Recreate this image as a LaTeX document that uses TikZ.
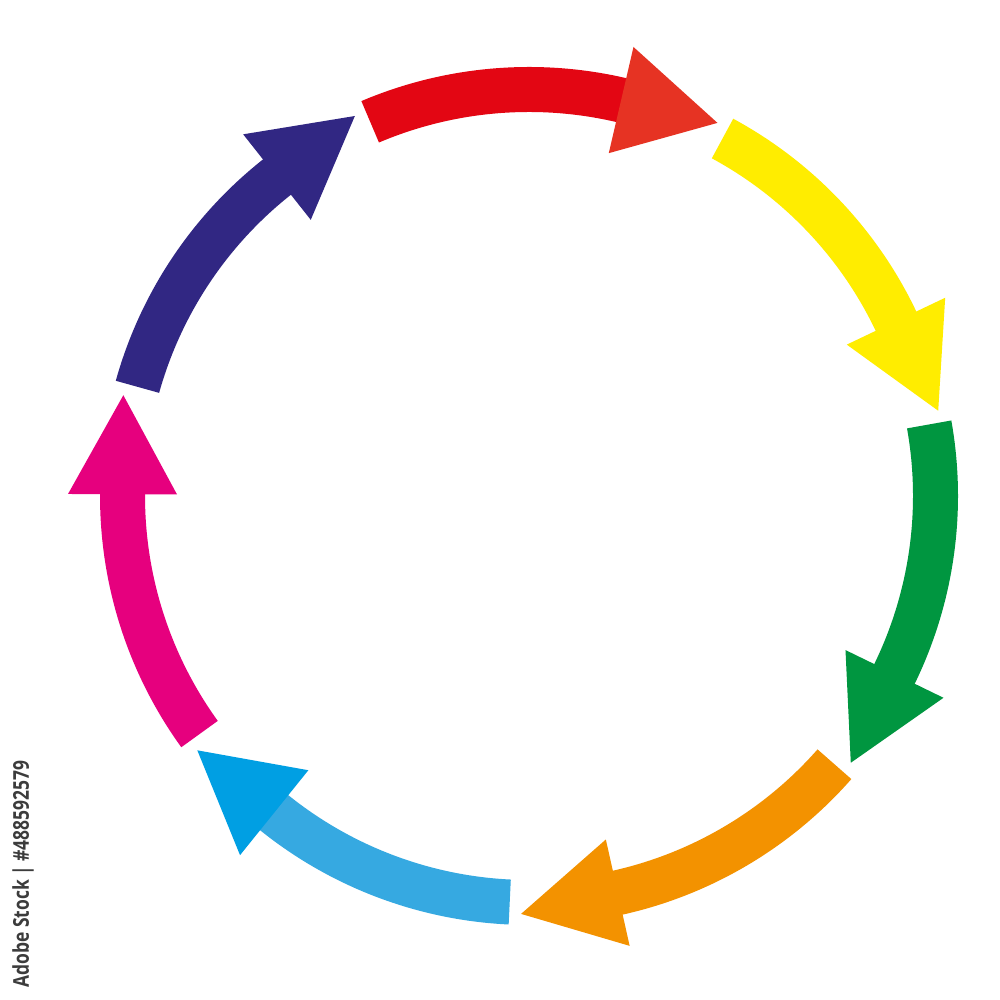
\documentclass[tikz,border=0pt]{standalone}
\usepackage{fontspec}
\setsansfont{Open Sans}
\usepackage{tikz}

\definecolor{cred}{HTML}{E30613}
\definecolor{credh}{HTML}{E63323}
\definecolor{cyellow}{HTML}{FFED00}
\definecolor{cgreen}{HTML}{009640}
\definecolor{corange}{HTML}{F39200}
\definecolor{cblue}{HTML}{36A9E1}
\definecolor{cblueh}{HTML}{009FE3}
\definecolor{cmagenta}{HTML}{E6007E}
\definecolor{cpurple}{HTML}{312783}
\definecolor{cstamp}{HTML}{3C3C3C}

\begin{document}
\begin{tikzpicture}[x=1cm,y=1cm]
  \tikzstyle{stamp}=[font=\sffamily\bfseries\fontsize{6.2}{7}\selectfont,text=cstamp,
                     rotate=90,xscale=0.8,inner sep=0pt]

  \clip (0,0) rectangle (10,10);
  \fill[white] (0,0) rectangle (10,10);

  \begin{scope}[shift={(5.29,5.04)}]
  \foreach \body/\head [count=\i from 0] in {cred/credh,cyellow/cyellow,cgreen/cgreen,
      corange/corange,cblue/cblueh,cmagenta/cmagenta,cpurple/cpurple}
  {
    \pgfmathsetmacro\a{113-\i*51.43}
    \pgfmathsetmacro\b{\a-36.5}
    \pgfmathsetmacro\t{\b-13.3}
    \fill[\body] (\a:3.84) arc[start angle=\a,end angle=\b,radius=3.84]
      -- (\b:4.29) arc[start angle=\b,end angle=\a,radius=4.29] -- cycle;
    \fill[\head] (\b+0.4:3.52) -- (\b+0.4:4.61) -- (\t:4.18) -- cycle;
  }
  \end{scope}

  \node[stamp,anchor=east] (id) at (0.23,2.4) {Adobe Stock | \#488592579};
\end{tikzpicture}
\end{document}
